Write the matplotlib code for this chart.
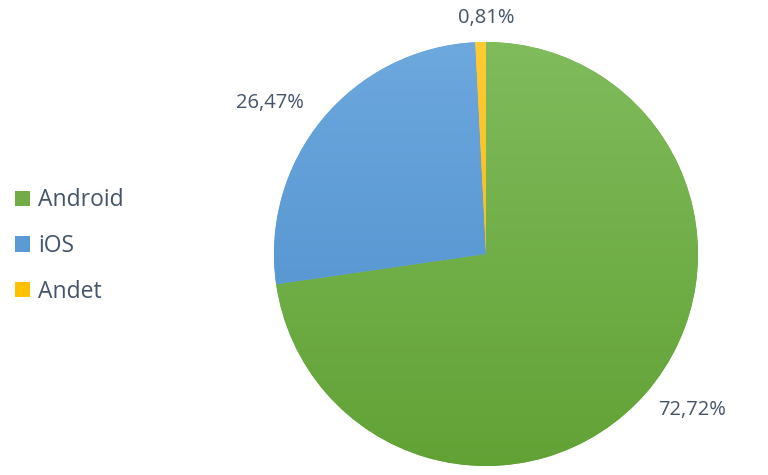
import matplotlib
matplotlib.use("Agg")
import matplotlib.pyplot as plt
import numpy as np
from matplotlib.colors import LinearSegmentedColormap
from matplotlib.patches import Patch

labels = ["Android", "iOS", "Andet"]
values = [72.72, 26.47, 0.81]
value_texts = ["72,72%", "26,47%", "0,81%"]
colors = ["#70AD47", "#5B9BD5", "#FFC000"]
light = ["#80BB5C", "#6DA8DE", "#FFCB33"]
dark = ["#62A235", "#4A8CCB", "#F2B400"]
label_dist = [1.22, 1.243, 1.113]
label_angle_shift = [3.8, 4.5, -1.5]

text_color = "#44546A"
plt.rcParams['font.family'] = ['Open Sans', 'DejaVu Sans']

fig = plt.figure(figsize=(7.68, 4.75), dpi=100)
ax = fig.add_axes([274/768, 9/475, 424/768, 424/475])
wedges, _ = ax.pie(values, colors=colors, startangle=90, counterclock=False,
                   radius=1.0, wedgeprops=dict(linewidth=0))
ax.set_aspect('equal')
ax.axis('off')

grad = np.linspace(0, 1, 256).reshape(-1, 1)
for w, lc, dc in zip(wedges, light, dark):
    cmap = LinearSegmentedColormap.from_list("g", [lc, dc])
    im = ax.imshow(grad, extent=[-1, 1, -1, 1], origin='upper', cmap=cmap,
                   aspect='auto', zorder=w.get_zorder() + 0.1)
    im.set_clip_path(w)
ax.set_xlim(-1, 1)
ax.set_ylim(-1, 1)

for w, t, d, s in zip(wedges, value_texts, label_dist, label_angle_shift):
    ang = np.deg2rad((w.theta1 + w.theta2) / 2 + s)
    ax.text(d*np.cos(ang), d*np.sin(ang), t, ha='center', va='center',
            fontsize=14.5, color=text_color, clip_on=False)

handles = [Patch(facecolor=c, edgecolor='none') for c in colors]
leg = fig.legend(handles, labels, loc='center left', bbox_to_anchor=(0.0, 0.482),
                 frameon=False, fontsize=16.5, labelspacing=0.95, handlelength=0.65,
                 handleheight=0.65, handletextpad=0.35, labelcolor=text_color,
                 borderaxespad=0.25)

fig.savefig("out.png", dpi=100)
